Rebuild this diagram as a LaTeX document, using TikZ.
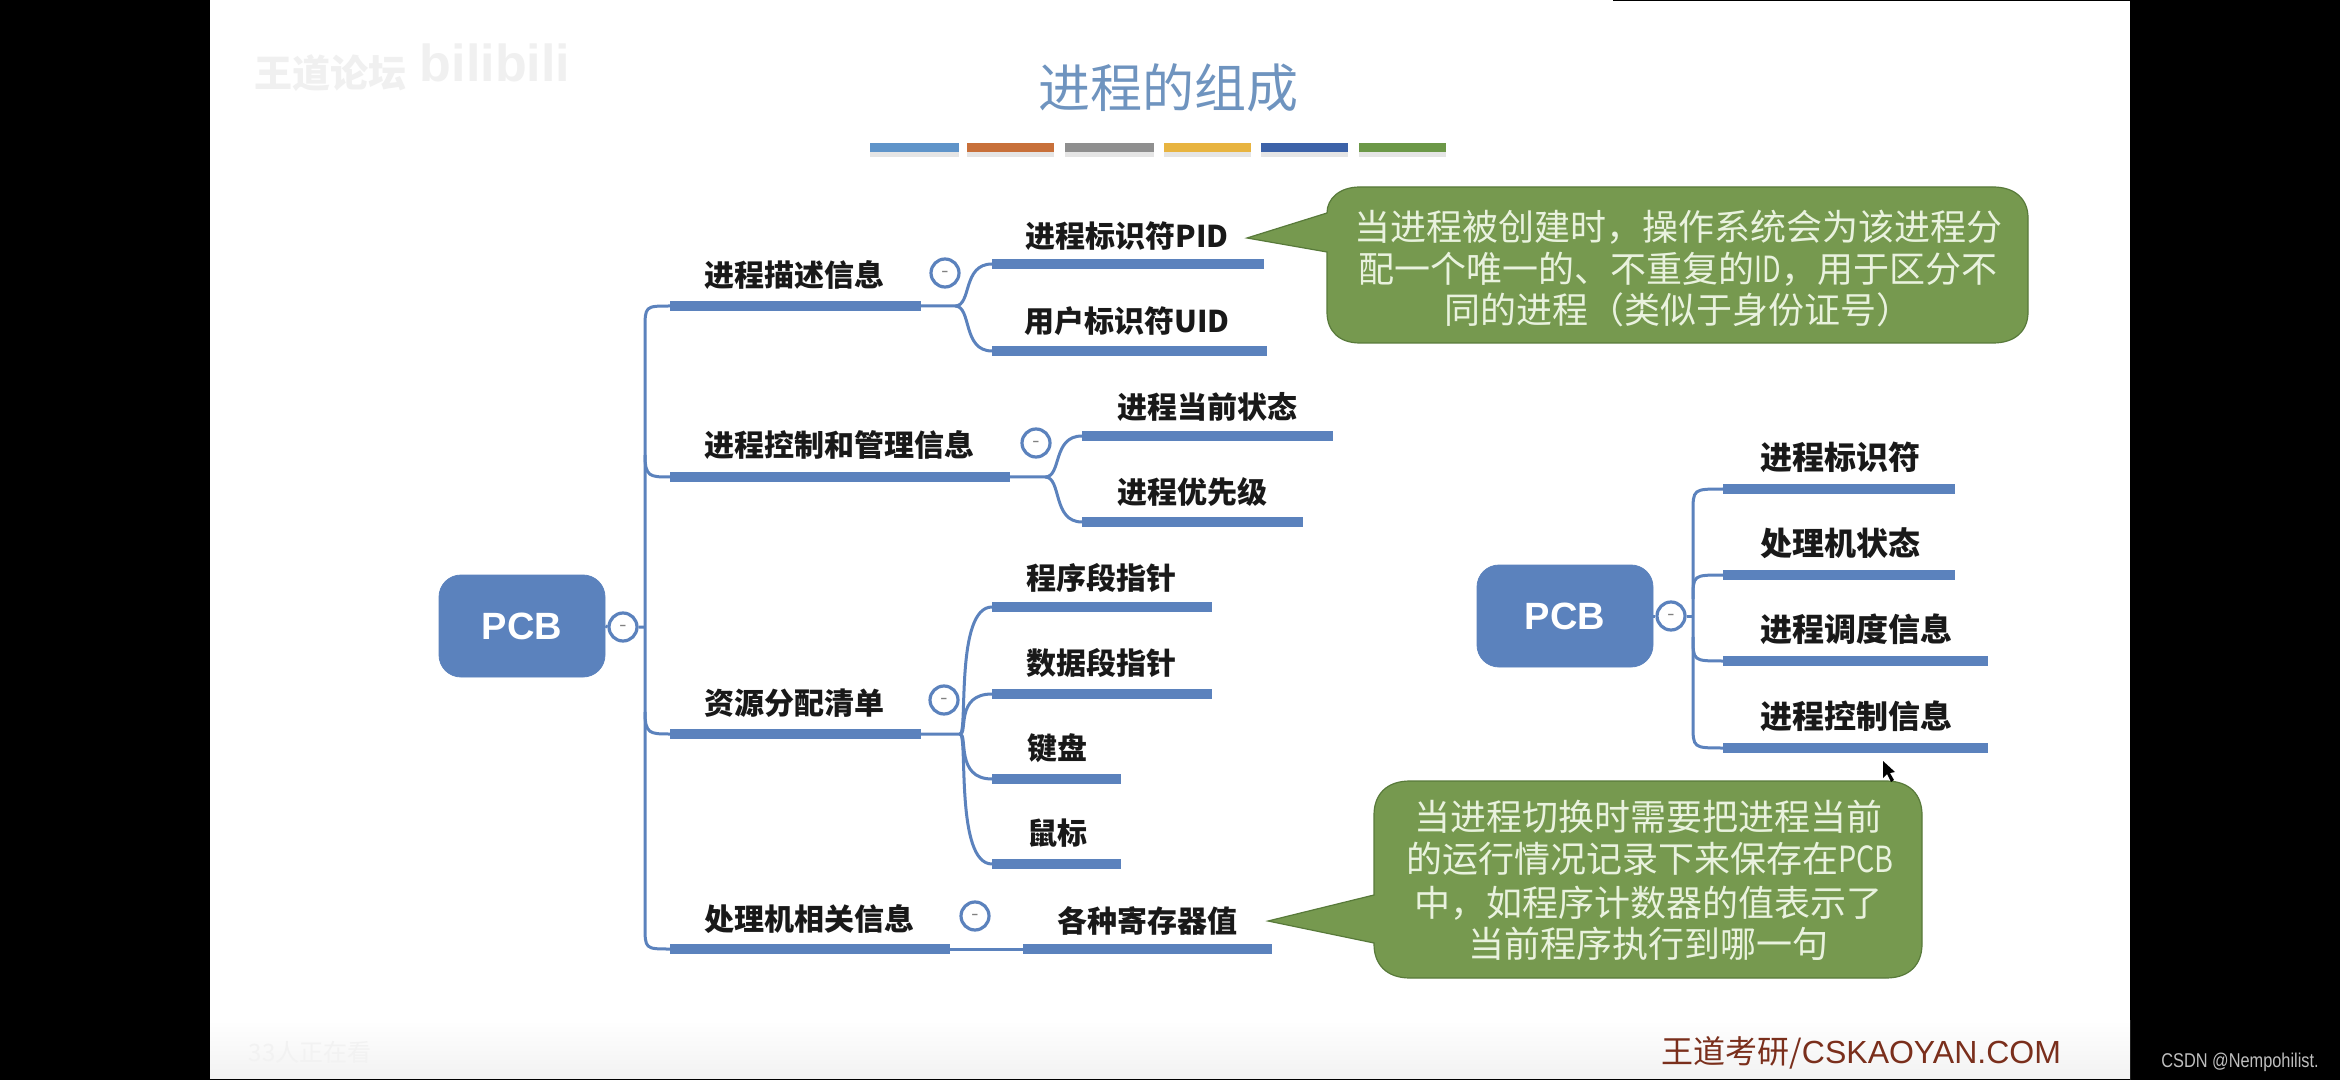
\documentclass[tikz,border=0pt]{standalone}
\usepackage{fontspec}
\usetikzlibrary{shapes.misc,calc}
\setmainfont{Noto Sans CJK SC}
\newfontfamily\latn{Liberation Sans}
\definecolor{mapblue}{HTML}{5B82BD}
\definecolor{calloutgreen}{HTML}{76994F}
\definecolor{calloutedge}{HTML}{587A3A}
\definecolor{calloutink}{HTML}{E9F2DE}
\definecolor{titleblue}{HTML}{6F94BF}
\definecolor{footred}{HTML}{7A2F1C}
\tikzset{
  barnode/.style={fill=mapblue,inner sep=0pt,outer sep=0pt,minimum height=5pt,anchor=west},
  conn/.style={draw=mapblue,line width=1.5pt},
  maptext/.style={font=\bfseries\fontsize{15pt}{15pt}\selectfont,text=black!90,inner sep=0pt,anchor=center},
  maptextR/.style={font=\bfseries\fontsize{16pt}{16pt}\selectfont,text=black!90,inner sep=0pt,anchor=west},
  rootbox/.style={rounded corners=11pt,fill=mapblue,draw=mapblue,text=white,font=\latn\bfseries\fontsize{19pt}{19pt}\selectfont,inner sep=0pt,anchor=center},
  folder/.style={circle,draw=mapblue,line width=1.6pt,fill=white,minimum size=14pt,inner sep=0pt,font=\fontsize{6pt}{6pt}\selectfont\bfseries,text=gray},
  callout/.style={fill=calloutgreen,draw=calloutedge,line width=.6pt},
  callouttext/.style={text=calloutink,font=\fontsize{18pt}{21pt}\selectfont,inner sep=0pt,anchor=center}
}
\newcommand{\mybar}[4]{\node[barnode,minimum width={(#3-#2)*0.5pt}] (#1) at (#2,#4) {};}
\begin{document}
\begin{tikzpicture}[x=0.5pt,y=-0.5pt]
\useasboundingbox (0,0) rectangle (2340,1080);
\fill[black] (0,0) rectangle (2340,1080);
\fill[white] (210,0) rectangle (2130,1080);
\fill[black] (1613,0) rectangle (2130,1.5);
\shade[top color=white,bottom color=black!5] (210,1020) rectangle (2130,1079);
\fill[black] (210,1079) rectangle (2130,1080);
% watermarks
\node[inner sep=0pt,text=black!6,font=\fontsize{19pt}{19pt}\selectfont\bfseries] (wmA) at (330,73) {王道论坛};
\node[inner sep=0pt,text=black!6,font=\latn\bfseries\fontsize{26pt}{26pt}\selectfont] (wmB) at (495,63) {bilibili};
\node[inner sep=0pt,text=black!5,font=\fontsize{12pt}{12pt}\selectfont] (wmC) at (310,1052) {33人正在看};
% title
\node[inner sep=0pt,text=titleblue,font=\fontsize{26pt}{26pt}\selectfont] (title) at (1168,88) {进程的组成};
% colour strip
\foreach \xa/\xb/\c in {870/959/5F94C9,967/1054/C8703A,1065/1154/8F8F8F,1164/1251/E8B440,1261/1348/3C62A8,1359/1446/6C9848}{
  \fill[black!40,opacity=.25] (\xa,149) rectangle (\xb,157);
  \definecolor{tmpc}{HTML}{\c}
  \fill[tmpc] (\xa,143) rectangle (\xb,152);
}
% left map
\node[rootbox,minimum width=83pt,minimum height=51pt] (pcbL) at (522,626) {PCB};
\node[folder] (cL) at (623,627) {--};
\coordinate (trL) at (645,627);
\mybar{a1}{670}{921}{306}
\mybar{a2}{670}{1010}{477}
\mybar{a3}{670}{921}{734}
\mybar{a4}{670}{950}{949}
\mybar{b1}{992}{1264}{264}
\mybar{b2}{992}{1267}{351}
\mybar{c1}{1082}{1333}{436}
\mybar{c2}{1082}{1303}{522}
\mybar{d1}{992}{1212}{607}
\mybar{d2}{992}{1212}{694}
\mybar{d3}{992}{1121}{779}
\mybar{d4}{992}{1121}{864}
\mybar{e1}{1023}{1272}{949}
\draw[conn] (pcbL.east) -- (cL.west) (cL.east) -- (trL);
\draw[conn] (a1.west) .. controls (645,306) and (645,306) .. (645,330) -- (645,925) .. controls (645,949) and (645,949) .. (a4.west);
\draw[conn] (645,455) .. controls (645,477) and (650,477) .. (a2.west);
\draw[conn] (645,712) .. controls (645,734) and (650,734) .. (a3.west);
\draw[conn] (a1.east) -- (955,306) .. controls (972,306) and (962,264) .. (b1.west);
\draw[conn] (955,306) .. controls (972,306) and (962,351) .. (b2.west);
\draw[conn] (a2.east) -- (1045,477) .. controls (1062,477) and (1052,436) .. (c1.west);
\draw[conn] (1045,477) .. controls (1062,477) and (1052,522) .. (c2.west);
\draw[conn] (a3.east) -- (960,734) .. controls (968,734) and (955,607) .. (d1.west);
\draw[conn] (960,734) .. controls (968,734) and (955,694) .. (d2.west);
\draw[conn] (960,734) .. controls (968,734) and (955,779) .. (d3.west);
\draw[conn] (960,734) .. controls (968,734) and (955,864) .. (d4.west);
\draw[conn] (a4.east) -- (e1.west);
\node[folder] (ca1) at (945,273) {--};
\node[folder] (ca2) at (1036,443) {--};
\node[folder] (ca3) at (944,700) {--};
\node[folder] (ca4) at (975,916) {--};
\node[maptext] (ta1) at (794,275) {进程描述信息};
\node[maptext] (ta2) at (839,445) {进程控制和管理信息};
\node[maptext] (ta3) at (794,703) {资源分配清单};
\node[maptext] (ta4) at (809,919) {处理机相关信息};
\node[maptext] (tb1) at (1127,236) {进程标识符PID};
\node[maptext] (tb2) at (1127,321) {用户标识符UID};
\node[maptext] (tc1) at (1207,407) {进程当前状态};
\node[maptext] (tc2) at (1192,492) {进程优先级};
\node[maptext] (td1) at (1101,578) {程序段指针};
\node[maptext] (td2) at (1101,663) {数据段指针};
\node[maptext] (td3) at (1057,748) {键盘};
\node[maptext] (td4) at (1057,833) {鼠标};
\node[maptext] (te1) at (1147,921) {各种寄存器值};
% right map
\node[rootbox,minimum width=88pt,minimum height=51pt] (pcbR) at (1565,616) {PCB};
\node[folder] (cR) at (1671,616) {--};
\coordinate (trR) at (1693,616);
\mybar{r1}{1723}{1955}{489}
\mybar{r2}{1723}{1955}{575}
\mybar{r3}{1723}{1988}{661}
\mybar{r4}{1723}{1988}{748}
\draw[conn] (pcbR.east) -- (cR.west) (cR.east) -- (trR);
\draw[conn] (r1.west) .. controls (1693,489) and (1693,489) .. (1693,513) -- (1693,724) .. controls (1693,748) and (1693,748) .. (r4.west);
\draw[conn] (1693,599) .. controls (1693,575) and (1693,575) .. (r2.west);
\draw[conn] (1693,637) .. controls (1693,661) and (1693,661) .. (r3.west);
\node[maptextR] (tr1) at (1760,457) {进程标识符};
\node[maptextR] (tr2) at (1760,543) {处理机状态};
\node[maptextR] (tr3) at (1760,629) {进程调度信息};
\node[maptextR] (tr4) at (1760,716) {进程控制信息};
% callouts
\draw[callout] (1360,187) -- (1993,187) .. controls (2015,187) and (2028,199) .. (2028,218) -- (2028,312) .. controls (2028,331) and (2015,343) .. (1993,343) -- (1360,343) .. controls (1339,343) and (1327,331) .. (1327,312) -- (1327,252) -- (1247,238) -- (1327,213) .. controls (1327,199) and (1339,187) .. (1360,187) -- cycle;
\node[callouttext] (n1a) at (1678,227) {当进程被创建时，操作系统会为该进程分};
\node[callouttext] (n1b) at (1678,269) {配一个唯一的、不重复的\scalebox{.75}[1]{ID}，用于区分不};
\node[callouttext] (n1c) at (1678,310) {同的进程（类似于身份证号）};
\draw[callout] (1410,781) -- (1886,781) .. controls (1910,781) and (1922,795) .. (1922,815) -- (1922,944) .. controls (1922,964) and (1910,978) .. (1886,978) -- (1410,978) .. controls (1386,978) and (1374,964) .. (1374,944) -- (1374,943) -- (1268,921) -- (1374,895) -- (1374,815) .. controls (1374,795) and (1386,781) .. (1410,781) -- cycle;
\node[callouttext] (n2a) at (1648,817) {当进程切换时需要把进程当前};
\node[callouttext] (n2b) at (1650,859) {的运行情况记录下来保存在\scalebox{.8}[1]{PCB}};
\node[callouttext] (n2c) at (1648,903) {中，如程序计数器的值表示了};
\node[callouttext] (n2d) at (1648,944) {当前程序执行到哪一句};
% cursor
\fill[black] (1883,761) -- (1883,778) -- (1887,774) -- (1891,782) -- (1894,780) -- (1890,773) -- (1895,772) -- cycle;
% footer
\node[inner sep=0pt,anchor=west,text=footred] (foot) at (1661,1053) {\fontsize{16pt}{16pt}\selectfont 王道考研/\latn CSKAOYAN.COM};
\node[inner sep=0pt,anchor=west,text=black!25] (csdn) at (2161,1062) {\scalebox{.86}[1.05]{\latn\fontsize{9.5pt}{10pt}\selectfont CSDN @Nempohilist.}};
\end{tikzpicture}
\end{document}
